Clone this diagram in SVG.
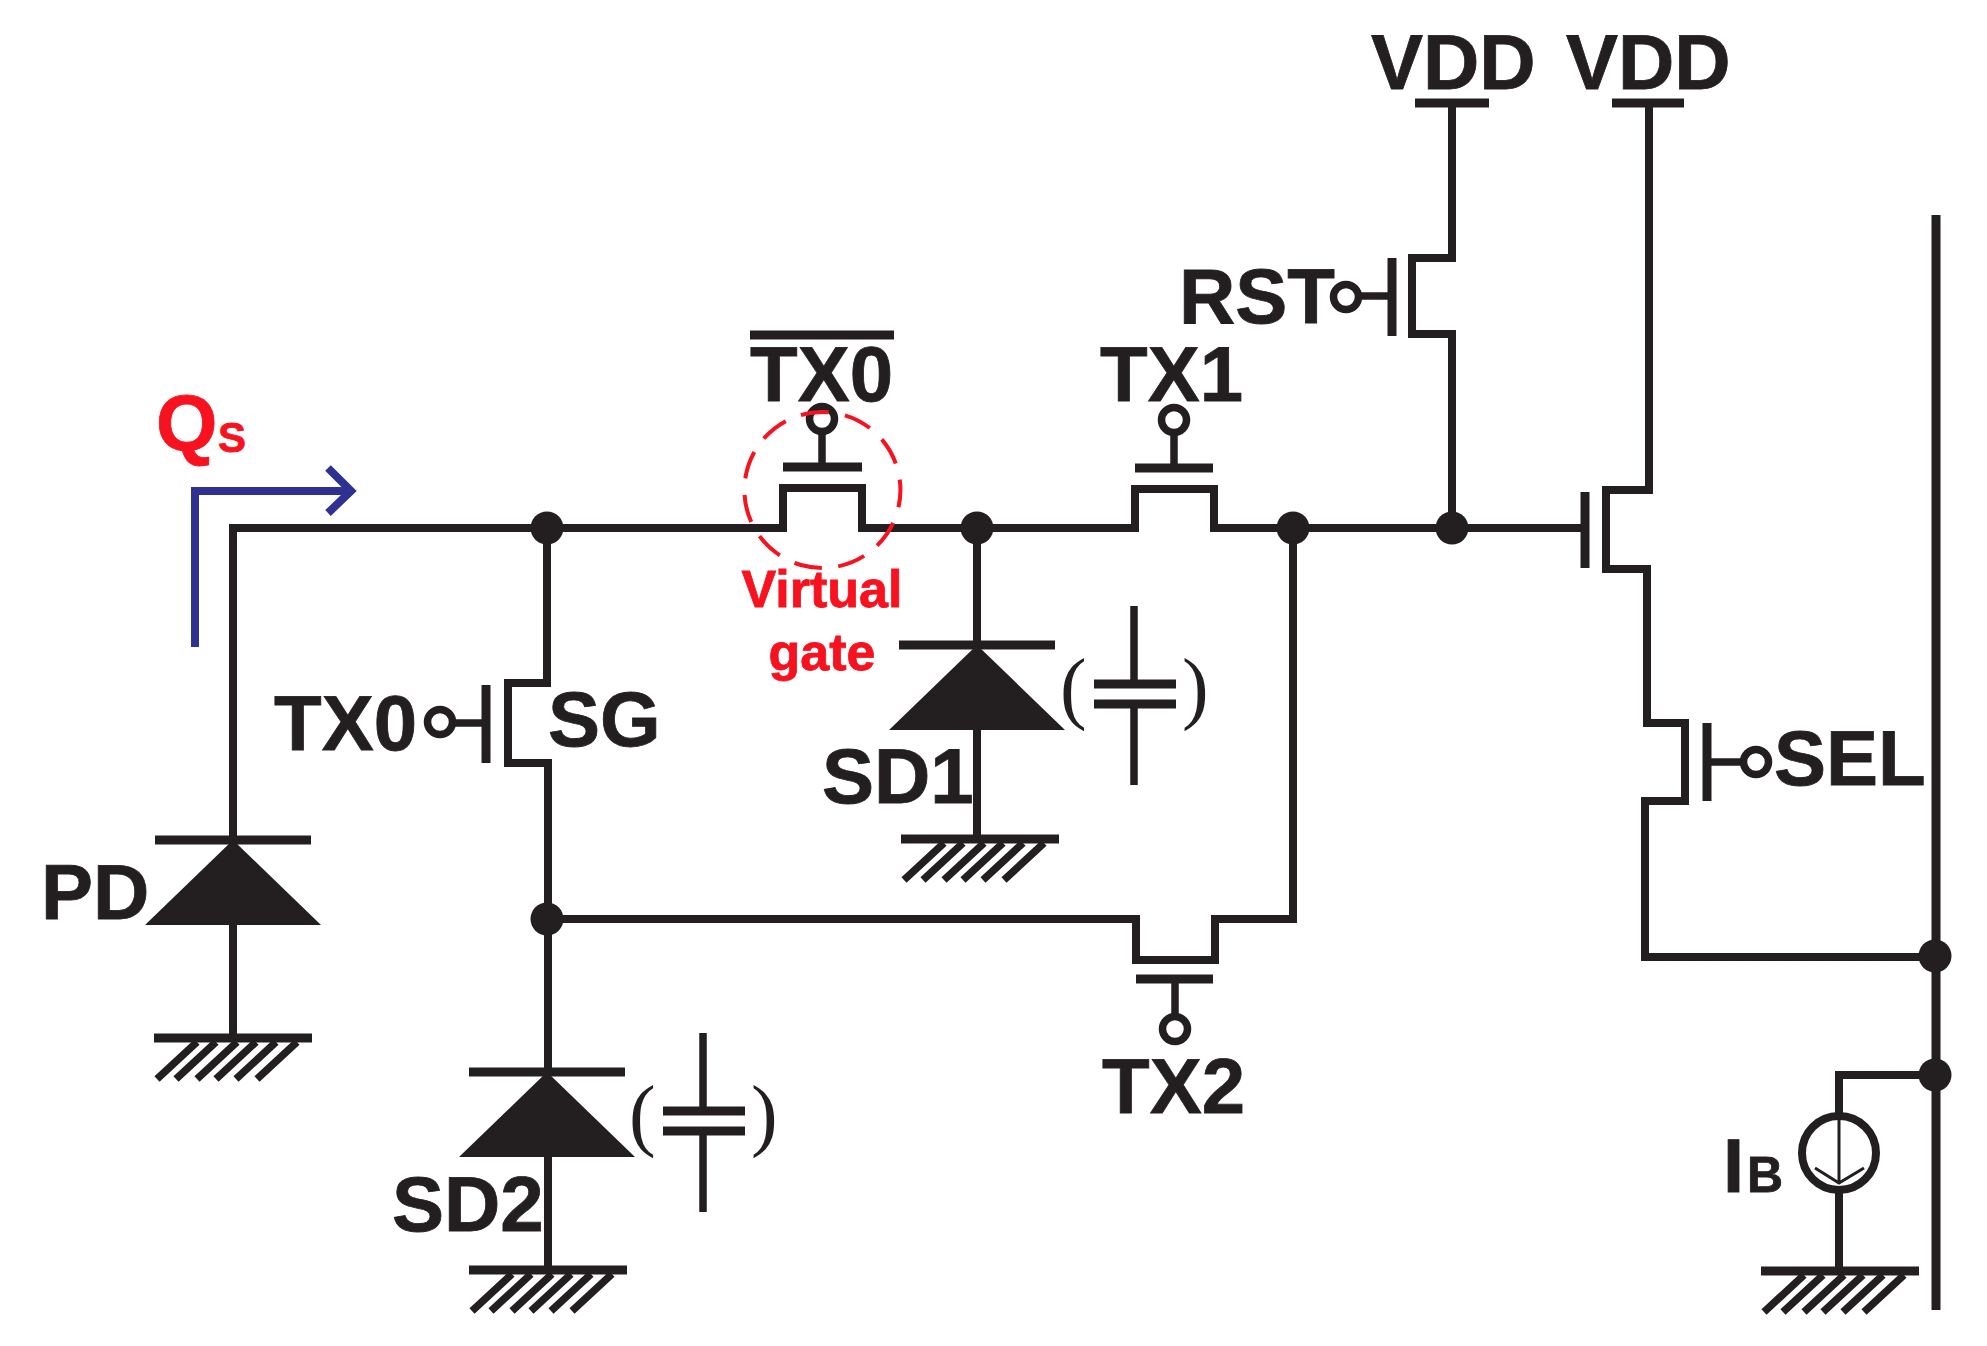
<svg xmlns="http://www.w3.org/2000/svg" width="1987" height="1346" viewBox="0 0 1987 1346">
<style>
text{font-family:"Liberation Sans",Arial,sans-serif;font-weight:700;fill:#231f20;stroke:#231f20;stroke-width:.8}
.l{font-size:78px}
.red{fill:#f7121f;stroke:#f7121f}
.w{fill:none;stroke:#231f20;stroke-width:8;stroke-linecap:square;stroke-linejoin:miter}
.p{fill:none;stroke:#231f20;stroke-width:9}
.t{fill:none;stroke:#231f20;stroke-width:7.5}
.o{fill:#fff;stroke:#231f20;stroke-width:7.5}
.d{fill:#231f20}
text.par{font-family:"Liberation Serif","Times New Roman",serif;font-weight:400;font-size:80px;stroke-width:0}
</style>
<defs>
<g id="gnd">
<line x1="-79" y1="0" x2="79" y2="0" class="p"/>
<path d="M-36 4L-76 41M-17 4L-57 41M4 4L-36 41M23 4L-17 41M43 4L3 41M64 4L24 41" class="t"/>
</g>
<g id="diode">
<line x1="-78" y1="0" x2="78" y2="0" class="p"/>
<path d="M0 0L88 85L-88 85Z" class="d"/>
</g>
<g id="cap">
<path d="M0 0V74M0 98V179" class="t"/>
<path d="M-40 78H42M-40 98H42" class="p"/>
<text class="par" x="-74" y="108">(</text>
<text class="par" x="48" y="108">)</text>
</g>
</defs>
<rect width="1987" height="1346" fill="#fff"/>
<g id="connectors">
<path class="w" d="M233 836V528H783V488H862V528H1135V489H1214V528H1585"/>
<path class="w" d="M547 528V683H508V763H548V1072"/>
<path class="w" d="M547 919H1136V960H1215V919H1293V528"/>
<path class="w" d="M233 923V1038"/>
<path class="w" d="M977 528V645M977 727V839"/>
<path class="w" d="M548 1155V1270"/>
<path class="w" d="M1452 103V258H1412V334H1452V528"/>
<path class="w" d="M1649 103V490H1606V569H1647V723H1685V801H1645V957H1935"/>
<path class="w" d="M1935 1075H1839V1116M1839 1190V1271"/>
<line x1="1936" y1="215" x2="1936" y2="1310" stroke="#231f20" stroke-width="9"/>
<circle class="d" cx="547" cy="528" r="16.5"/>
<circle class="d" cx="977" cy="528" r="16.5"/>
<circle class="d" cx="1293" cy="528" r="16.5"/>
<circle class="d" cx="1452" cy="528" r="16.5"/>
<circle class="d" cx="547" cy="919" r="16.5"/>
<circle class="d" cx="1935" cy="956" r="16.5"/>
<circle class="d" cx="1935" cy="1075" r="16.5"/>
</g>
<g id="qs-arrow">
<path d="M195 647V491H350M328 468L351 491L328 513" fill="none" stroke="#2e3192" stroke-width="8"/>
<text class="red" x="156" y="450" font-size="79">Q</text>
<text class="red" x="218" y="452" font-size="42">S</text>
</g>
<g id="pd">
<use href="#diode" x="233" y="840"/>
<use href="#gnd" x="233" y="1038"/>
<text class="l" x="41" y="919">PD</text>
</g>
<g id="sg">
<line class="p" x1="486" y1="685" x2="486" y2="763"/>
<line class="t" x1="486" y1="723" x2="452" y2="723"/>
<circle class="o" cx="440" cy="722" r="12.5"/>
<text class="l" x="274" y="750">TX0</text>
<text class="l" x="548" y="746">SG</text>
</g>
<g id="tx0-bar">
<line class="p" x1="783" y1="467" x2="862" y2="467"/>
<line class="t" x1="822" y1="467" x2="822" y2="431"/>
<circle class="o" cx="822" cy="419" r="12.5"/>
<text class="l" x="750" y="401">TX0</text>
<line class="p" x1="750" y1="335" x2="894" y2="335"/>
</g>
<g id="virtual-gate">
<path d="M801 415A78 78 0 1 1 801 565A78 78 0 0 1 801 415Z" fill="none" stroke="#f7121f" stroke-width="4" stroke-dasharray="28 16.5"/>
<text class="red" x="822" y="607" font-size="52" text-anchor="middle">Virtual</text>
<text class="red" x="822" y="670" font-size="52" text-anchor="middle">gate</text>
</g>
<g id="sd1">
<use href="#diode" x="977" y="645"/>
<use href="#gnd" x="980" y="839"/>
<use href="#cap" x="1134" y="606"/>
<text class="l" x="822" y="803">SD1</text>
</g>
<g id="sd2">
<use href="#diode" x="547" y="1072"/>
<use href="#gnd" x="548" y="1270"/>
<use href="#cap" x="703" y="1033"/>
<text class="l" x="392" y="1231">SD2</text>
</g>
<g id="tx1">
<line class="p" x1="1135" y1="468" x2="1213" y2="468"/>
<line class="t" x1="1174" y1="468" x2="1174" y2="432"/>
<circle class="o" cx="1174" cy="420" r="12.5"/>
<text class="l" x="1100" y="401">TX1</text>
</g>
<g id="tx2">
<line class="p" x1="1136" y1="979" x2="1213" y2="979"/>
<line class="t" x1="1175" y1="979" x2="1175" y2="1017"/>
<circle class="o" cx="1175" cy="1029" r="12.5"/>
<text class="l" x="1102" y="1113">TX2</text>
</g>
<g id="rst">
<line class="p" x1="1392" y1="258" x2="1392" y2="336"/>
<line class="t" x1="1392" y1="296" x2="1358" y2="296"/>
<circle class="o" cx="1346" cy="297" r="12.5"/>
<text class="l" x="1179" y="323">RST</text>
</g>
<g id="vdd1">
<line class="p" x1="1415" y1="103" x2="1489" y2="103"/>
<text class="l" x="1371" y="89">VDD</text>
</g>
<g id="vdd2">
<line class="p" x1="1612" y1="103" x2="1684" y2="103"/>
<text class="l" x="1566" y="89">VDD</text>
</g>
<g id="sf">
<line class="p" x1="1585" y1="492" x2="1585" y2="568"/>
</g>
<g id="sel">
<line class="p" x1="1707" y1="723" x2="1707" y2="801"/>
<line class="t" x1="1707" y1="762" x2="1744" y2="762"/>
<circle class="o" cx="1756" cy="762" r="12.5"/>
<text class="l" x="1774" y="785">SEL</text>
</g>
<g id="ib">
<circle cx="1839" cy="1153" r="37" fill="none" stroke="#231f20" stroke-width="8"/>
<path d="M1839 1116V1184M1815 1168L1839 1183L1864 1168" fill="none" stroke="#231f20" stroke-width="3"/>
<use href="#gnd" x="1840" y="1271"/>
<text x="1723" y="1192" font-size="76">I</text>
<text x="1747" y="1192" font-size="50">B</text>
</g>
</svg>
